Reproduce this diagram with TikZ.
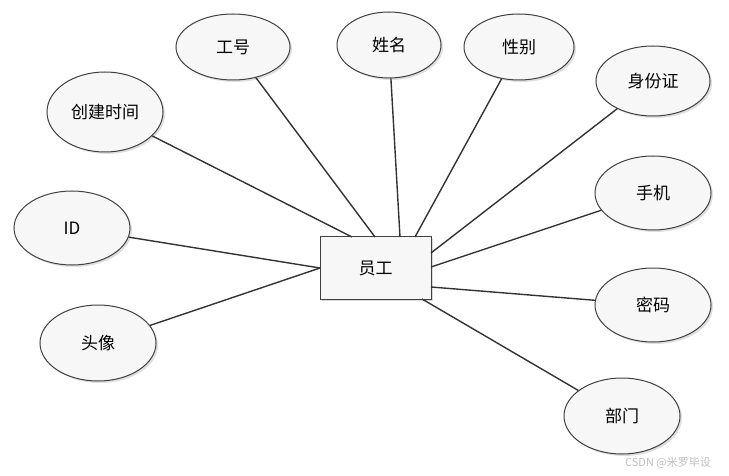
\documentclass[tikz,border=0pt]{standalone}
\usepackage{fontspec}
\setmainfont{Noto Sans CJK SC}
\usetikzlibrary{shapes.geometric,shadows}
\begin{document}
\begin{tikzpicture}[x=1pt,y=-1pt,
  attr/.style={ellipse,draw=black!75,line width=1pt,fill=gray!6,minimum width=#1,inner sep=0pt,
    drop shadow={shadow xshift=2pt,shadow yshift=-2pt,opacity=0.25},font=\fontsize{17}{20}\selectfont},
  attr/.default=114pt,
  ent/.style={rectangle,draw=black!75,line width=1pt,fill=gray!6,minimum width=111pt,minimum height=62pt,
    drop shadow={shadow xshift=2pt,shadow yshift=-2pt,opacity=0.3},font=\fontsize{17}{20}\selectfont},
  link/.style={draw=black!80,line width=1.4pt}]
\useasboundingbox (0,0) rectangle (729,476);
\begin{scope}
\clip (0,0) rectangle (729,476);
\node[font=\fontsize{17}{20}\selectfont,anchor=west] (cap) at (212,486) {图 4-13\quad 员工信息实体属性图};
\end{scope}
\node[font=\fontsize{11}{13}\selectfont,text=gray!50] (wm) at (668,463) {CSDN @米罗毕设};
\node[ent] (e) at (375.5,268) {员工};
\node[attr,minimum height=66pt] (gh) at (233,47) {工号};
\node[attr=104pt,minimum height=66pt] (xm) at (389,45) {姓名};
\node[attr=110pt,minimum height=66pt] (xb) at (519,47) {性别};
\node[attr,minimum height=70pt] (sfz) at (653,81) {身份证};
\node[attr=116pt,minimum height=80pt] (cj) at (105,112) {创建时间};
\node[attr=116pt,minimum height=74pt] (id) at (72,228) {ID};
\node[attr=116pt,minimum height=74pt] (sj) at (653,193) {手机};
\node[attr=116pt,minimum height=74pt] (mm) at (653,305) {密码};
\node[attr=116pt,minimum height=76pt] (tx) at (98,343) {头像};
\node[attr=116pt,minimum height=76pt] (bm) at (622,416) {部门};
\coordinate (p1) at (375,237);
\coordinate (p2) at (400,237);
\coordinate (p3) at (415,237);
\coordinate (p4) at (431,253);
\coordinate (p5) at (431,267);
\coordinate (p6) at (431,287);
\coordinate (p7) at (422,299);
\coordinate (p8) at (320,268);
\coordinate (p9) at (352,237);
\draw[link] (gh) -- (p1);
\draw[link] (xm) -- (p2);
\draw[link] (xb) -- (p3);
\draw[link] (sfz) -- (p4);
\draw[link] (sj) -- (p5);
\draw[link] (mm) -- (p6);
\draw[link] (bm) -- (p7);
\draw[link] (tx) -- (p8);
\draw[link] (id) -- (p8);
\draw[link] (cj) -- (p9);
\end{tikzpicture}
\end{document}
